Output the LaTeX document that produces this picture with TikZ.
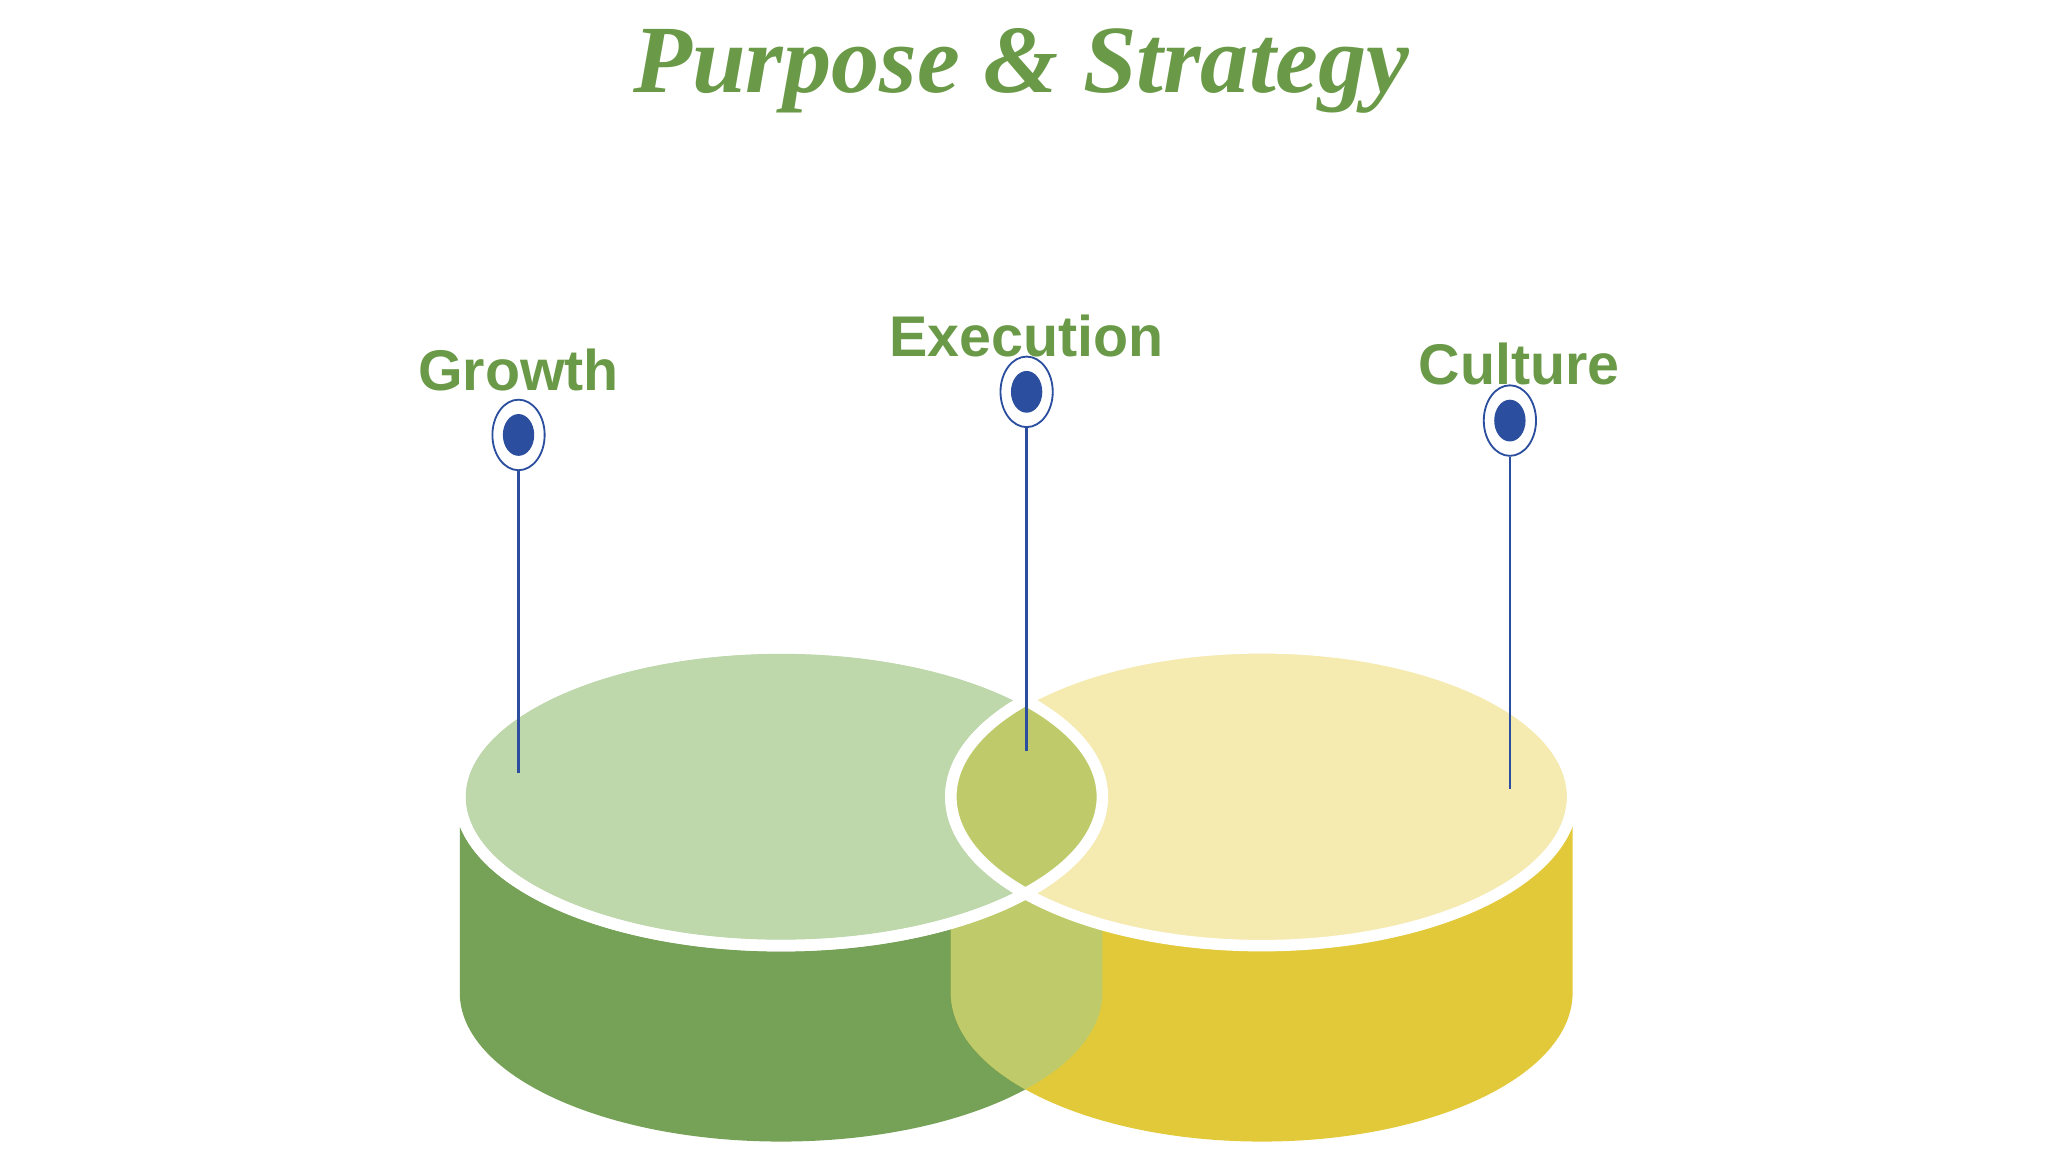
\documentclass[tikz,border=0pt]{standalone}
\usepackage{fontspec}
\setmainfont{Liberation Sans}
\newfontfamily\titlefont{Liberation Serif}
\usetikzlibrary{positioning, shapes.geometric}
\definecolor{leafgreen}{HTML}{6A9A48}
\definecolor{greenside}{HTML}{76A258}
\definecolor{greentop}{HTML}{BED8AC}
\definecolor{yellowside}{HTML}{E2C93A}
\definecolor{yellowtop}{HTML}{F5EAB0}
\definecolor{olive}{HTML}{BFCB6A}
\definecolor{pinblue}{HTML}{2B4F9E}

\begin{document}
\begin{tikzpicture}[
    label text/.style={text=leafgreen, font=\bfseries\fontsize{12.5}{14}\selectfont},
    pin ring/.style={draw=pinblue, fill=white, ellipse, inner sep=0pt, minimum width=0.4cm, minimum height=0.54cm},
    pin dot/.style={fill=pinblue, ellipse, inner sep=0pt, minimum width=0.24cm, minimum height=0.32cm},
    pin line/.style={draw=pinblue, line width=0.6pt}
]
    \useasboundingbox (0,0) rectangle (15.68,8.82);
    % cylinder bodies
    \fill [greenside] (3.52,2.50) -- (3.52,1.22) arc[start angle=180, end angle=360, x radius=2.46, y radius=1.14] -- (8.44,2.50) -- cycle;
    \fill [yellowside] (7.28,2.50) -- (7.28,1.22) arc[start angle=180, end angle=360, x radius=2.38, y radius=1.14] -- (12.04,2.50) -- cycle;
    \begin{scope}
        \clip (3.52,2.50) -- (3.52,1.22) arc[start angle=180, end angle=360, x radius=2.46, y radius=1.14] -- (8.44,2.50) -- cycle;
        \fill [olive] (7.28,2.50) -- (7.28,1.22) arc[start angle=180, end angle=360, x radius=2.38, y radius=1.14] -- (12.04,2.50) -- cycle;
    \end{scope}
    % tops
    \filldraw [fill=greentop, draw=white, line width=2.5pt] (5.98,2.72) ellipse [x radius=2.46, y radius=1.14];
    \filldraw [fill=yellowtop, draw=white, line width=2.5pt] (9.66,2.72) ellipse [x radius=2.38, y radius=1.14];
    \begin{scope}
        \clip (5.98,2.72) ellipse [x radius=2.46, y radius=1.14];
        \filldraw [fill=olive, draw=white, line width=2.5pt] (9.66,2.72) ellipse [x radius=2.38, y radius=1.14];
    \end{scope}
    \draw [white, line width=2.5pt] (5.98,2.72) ellipse [x radius=2.46, y radius=1.14];

    % title
    \node [text=leafgreen, font=\titlefont\bfseries\itshape\fontsize{21}{24}\selectfont] (title) at (7.82,8.28) {Purpose \& Strategy};

    % pins
    \node [pin ring] (growthpin) at (3.97,5.49) {};
    \node [pin dot] at (growthpin) {};
    \node [pin ring] (execpin) at (7.86,5.82) {};
    \node [pin dot] at (execpin) {};
    \node [pin ring] (culturepin) at (11.56,5.60) {};
    \node [pin dot] at (culturepin) {};
    \coordinate (growthend) at (3.97,2.90);
    \coordinate (execend) at (7.86,3.07);
    \coordinate (cultureend) at (11.56,2.78);
    \draw [pin line] (growthpin) -- (growthend);
    \draw [pin line] (execpin) -- (execend);
    \draw [pin line] (culturepin) -- (cultureend);

    % labels
    \node [label text] (growth) at (3.97,5.99) {Growth};
    \node [label text] (exec) at (7.86,6.25) {Execution};
    \node [label text] (culture) at (11.63,6.03) {Culture};
\end{tikzpicture}
\end{document}
